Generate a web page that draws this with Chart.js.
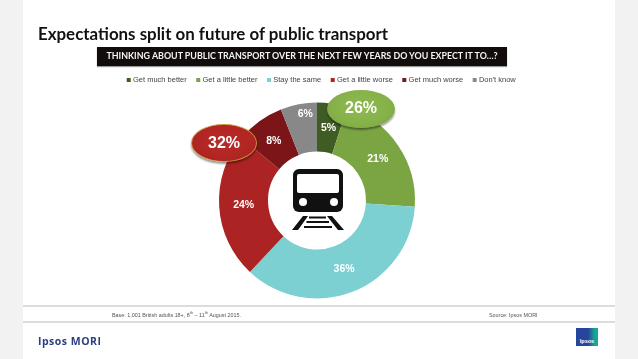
<!DOCTYPE html>
<html>
<head>
<meta charset="utf-8">
<title>Expectations split on future of public transport</title>
<script src="https://cdn.jsdelivr.net/npm/chart.js@4"></script>
<style>
  html, body { margin: 0; padding: 0; }
  body { width: 638px; height: 359px; background: #f2f2f2; position: relative; overflow: hidden; font-family: "Liberation Sans", Arial, sans-serif; }
  #panel { position: absolute; left: 23px; top: 0; width: 592px; height: 359px; background: #fff; }
  canvas { position: absolute; left: 0; top: 0; }
  .txt { position: absolute; white-space: nowrap; }
  #titulo { left: 38px; top: 23px; font-family: Lato, sans-serif; font-size: 16.9px; font-weight: bold; color: #111; line-height: 22px; }
  #banda { left: 97px; top: 47px; width: 410px; height: 19px; background: #120c0c; color: #f4f4f4; font-family: Lato, sans-serif; font-size: 8.9px; font-weight: bold; line-height: 17px; text-align: center; box-shadow: 0 1px 1px #999; }
  .ovalo { position: absolute; border-radius: 50%; color: #fff; text-align: center; font-weight: bold; font-size: 16px; box-shadow: 0 2px 2px rgba(0,0,0,.4); }
  #ovaloVerde { left: 327px; top: 90px; width: 68px; height: 38px; line-height: 36px; background: radial-gradient(ellipse at 50% 45%, #8dbb4e 0%, #86b14a 60%, #6f9a3a 100%); }
  #ovaloRojo { left: 191px; top: 124px; width: 66px; height: 38px; line-height: 36px; background: radial-gradient(ellipse at 50% 45%, #b92a26 0%, #b02523 65%, #8f1d1b 100%); border: 1px solid #c9923f; box-sizing: border-box; }
  .linea { position: absolute; left: 23px; width: 592px; height: 2px; background: #dcdcdc; }
  .pie { font-size: 5.4px; color: #555; top: 312px; line-height: 7px; }
  #marca { left: 38px; top: 334px; font-family: "Open Sans", sans-serif; font-size: 10.5px; font-weight: bold; color: #2c3e80; letter-spacing: .5px; line-height: 14px; }
  #logo { position: absolute; left: 576px; top: 328px; width: 22px; height: 18px; background: linear-gradient(90deg, #27459a 0%, #27459a 55%, #17a596 85%); color: #fff; font-size: 5.5px; font-weight: bold; text-align: center; line-height: 26px; }
  svg { position: absolute; left: 0; top: 0; }
</style>
</head>
<body>
<div id="panel"></div>
<canvas id="graficoTransporte" width="638" height="359"></canvas>

<div class="txt" id="titulo">Expectations split on future of public transport</div>
<div class="txt" id="banda">THINKING ABOUT PUBLIC TRANSPORT OVER THE NEXT FEW YEARS DO YOU EXPECT IT TO…?</div>

<!-- icono del tren en el centro -->
<svg width="638" height="359">
  <rect x="293" y="169" width="50" height="43" rx="6" fill="#111"/>
  <rect x="297" y="174" width="42" height="19" rx="2" fill="#fff"/>
  <circle cx="303" cy="202" r="4" fill="#fff"/>
  <circle cx="334" cy="202" r="4" fill="#fff"/>
  <path d="M303 216 L308 216 L298 230 L292 230 Z M327 216 L332 216 L344 230 L338 230 Z" fill="#111"/>
  <path d="M309 217.5 H326 M306.5 222 H329 M304 227 H332" stroke="#111" stroke-width="2" fill="none"/>
</svg>

<div class="ovalo" id="ovaloVerde">26%</div>
<div class="ovalo" id="ovaloRojo">32%</div>

<div class="linea" style="top:305px"></div>
<div class="linea" style="top:321px"></div>
<div class="txt pie" style="left:112px">Base: 1,001 British adults 18+, 8<sup style="font-size:4px;line-height:0">th</sup> – 11<sup style="font-size:4px;line-height:0">th</sup> August 2015.</div>
<div class="txt pie" style="left:489px">Source: Ipsos MORI</div>
<div class="txt" id="marca">Ipsos MORI</div>
<div id="logo">Ipsos</div>

<script>
const categorias = ['Get much better', 'Get a little better', 'Stay the same', 'Get a little worse', 'Get much worse', "Don't know"];
const valores = [5, 21, 36, 24, 8, 6];
const colores = ['#3f5c25', '#7ba543', '#7dd0d1', '#ab2322', '#7b1517', '#888888'];

// Etiquetas dentro de cada sector (Chart.js no trae datalabels)
const etiquetasPlugin = {
    id: 'etiquetas',
    afterDatasetsDraw(chart) {
        const ctx = chart.ctx;
        const arcos = chart.getDatasetMeta(0).data;
        ctx.save();
        ctx.font = 'bold 10.5px "Liberation Sans"';
        ctx.fillStyle = '#fff';
        ctx.textAlign = 'center';
        ctx.textBaseline = 'middle';
        arcos.forEach((arco, i) => {
            const p = arco.tooltipPosition();
            // el 6% va algo mas arriba en el original
            const dy = i === 5 ? -14 : 0;
            ctx.fillText(valores[i] + '%', p.x + (i === 5 ? 2 : 0), p.y + dy);
        });
        ctx.restore();
    }
};

// La leyenda esta un poco a la derecha del centro del anillo
const moverLeyenda = {
    id: 'moverLeyenda',
    afterLayout(chart) {
        chart.legend.left += 5;
        chart.legend.right += 5;
    }
};

new Chart(document.getElementById('graficoTransporte').getContext('2d'), {
    type: 'doughnut',
    data: {
        labels: categorias,
        datasets: [{
            data: valores,
            backgroundColor: colores,
            borderWidth: 0,
            radius: 98,
            cutout: '50%'
        }]
    },
    options: {
        responsive: false,
        animation: false,
        layout: { padding: { top: 65.25, bottom: 51.75, left: 0, right: 4 } },
        plugins: {
            tooltip: { enabled: false },
            legend: {
                position: 'top',
                labels: {
                    // caja de 1px con trazo grueso: asi el texto queda pegado al marcador
                    boxWidth: 1,
                    boxHeight: 1,
                    padding: 11,
                    color: '#444',
                    font: { family: '"Liberation Sans"', size: 7.5 },
                    generateLabels(chart) {
                        const items = Chart.overrides.doughnut.plugins.legend.labels.generateLabels(chart);
                        items.forEach((item, i) => {
                            item.strokeStyle = colores[i];
                            item.lineWidth = 3;
                        });
                        return items;
                    }
                }
            }
        }
    },
    plugins: [etiquetasPlugin, moverLeyenda]
});
</script>
</body>
</html>
